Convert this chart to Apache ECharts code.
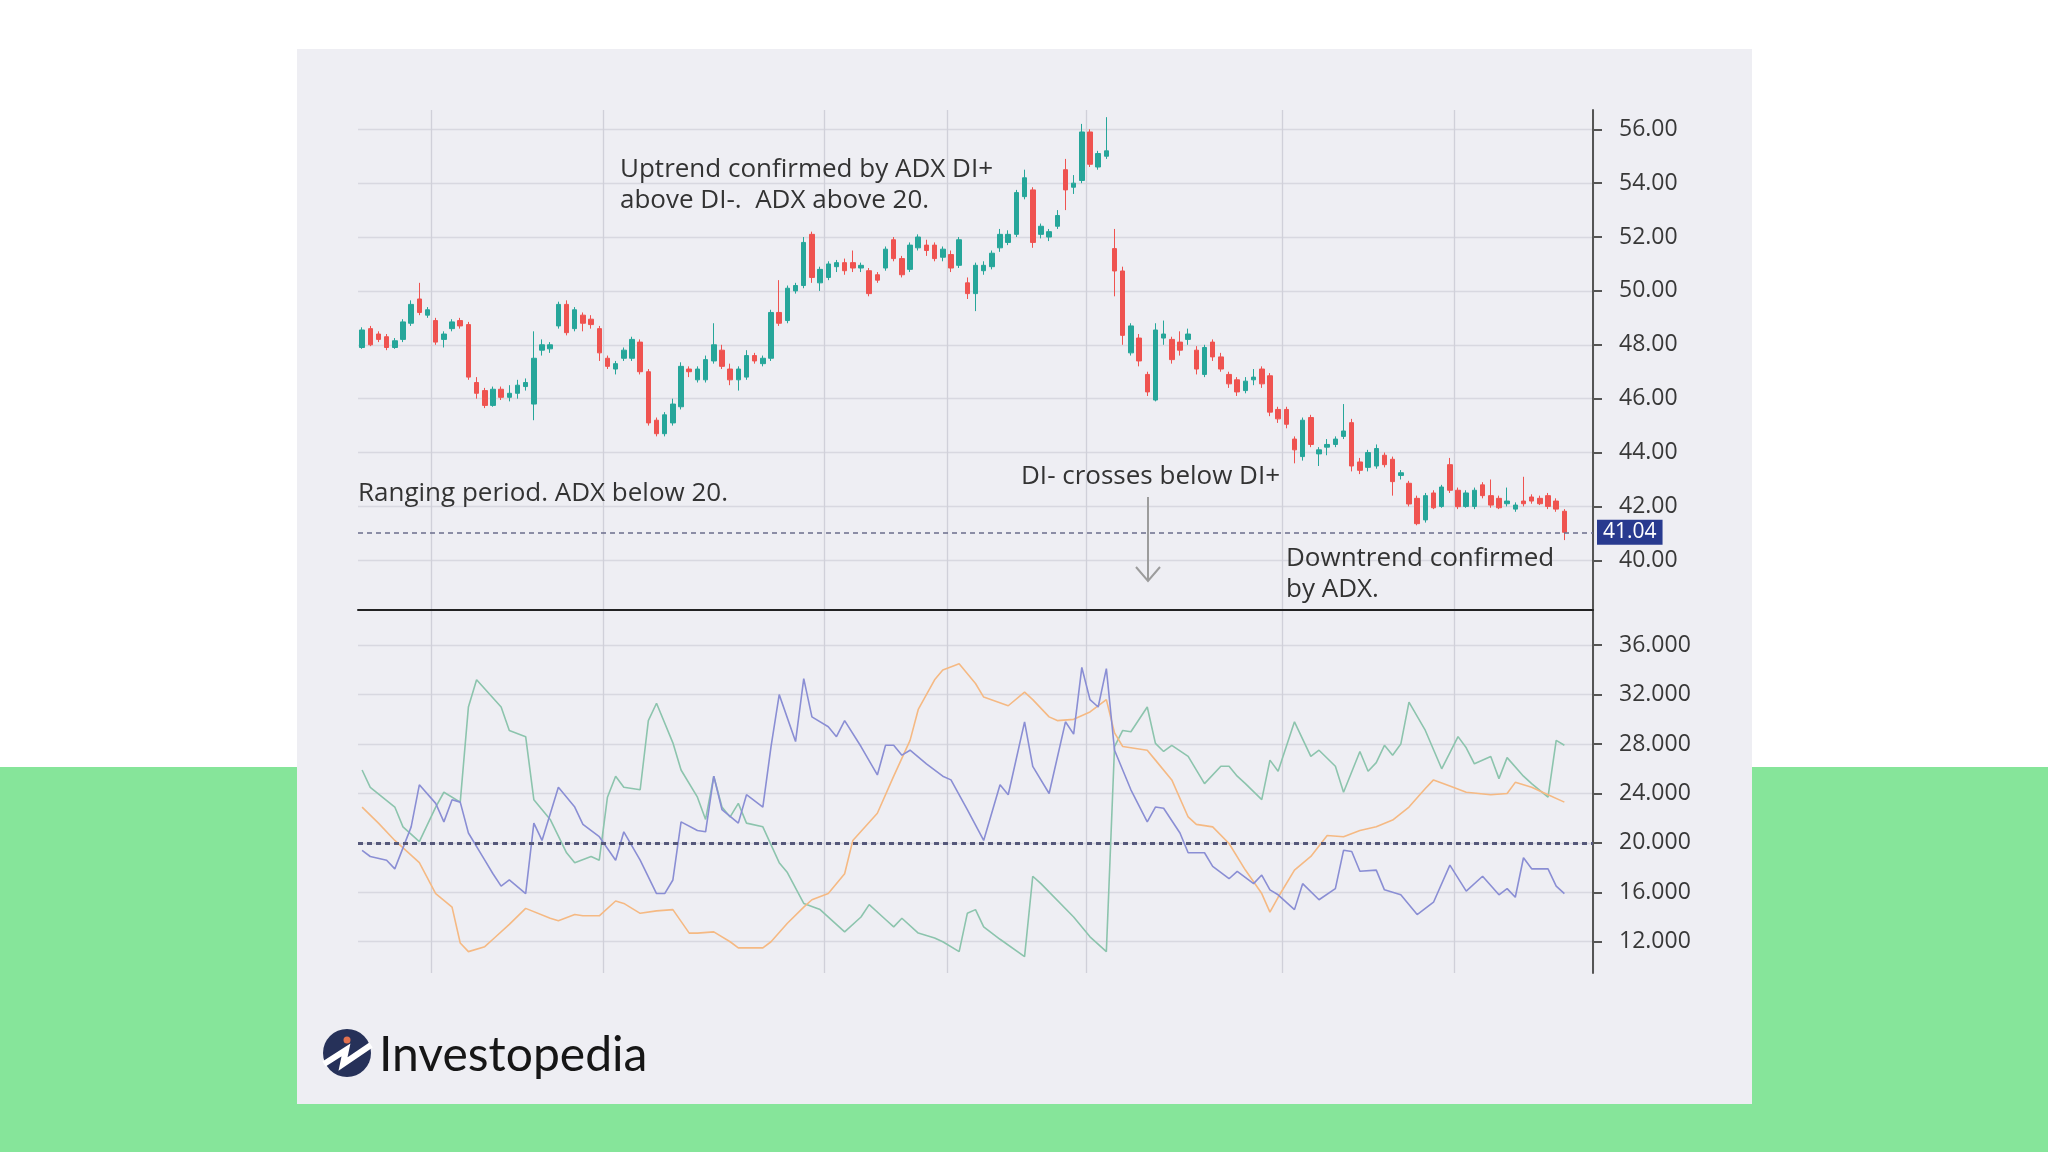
<!DOCTYPE html>
<html><head><meta charset="utf-8">
<script src="https://cdn.jsdelivr.net/npm/echarts@6/dist/echarts.min.js"></script>
<style>
html,body{margin:0;padding:0;width:2048px;height:1152px;background:#fff;overflow:hidden;}
#green{position:absolute;left:0;top:767px;width:2048px;height:385px;background:#86e59a;}
#panel{position:absolute;left:297px;top:49px;width:1455px;height:1055px;background:#eeeef3;}
#chart{position:absolute;left:0;top:0;width:2048px;height:1152px;}
</style></head><body>
<div id="green"></div><div id="panel"></div><div id="chart"></div>
<script>
// ---- DATA ----
const categories = Array.from({length:151}, (_, i) => String(i));
const opens  = [47.9,48.6,48.4,48.3,47.9,48.2,48.8,49.7,49.1,48.9,48.2,48.6,48.9,48.75,46.6,46.3,45.75,46.35,46.05,46.2,46.45,45.8,47.8,47.85,48.7,49.5,48.6,49.1,48.95,48.6,
47.5,47.1,47.5,47.5,48.1,47.0,45.2,44.7,45.1,45.7,47.1,46.7,46.7,47.4,47.8,47.1,46.7,46.8,47.6,47.3,47.5,49.2,48.9,50.0,50.2,52.1,50.3,50.5,50.9,51.05,
51.05,50.85,50.75,50.6,50.85,51.9,51.2,50.8,51.6,51.7,51.7,51.25,51.35,50.95,50.3,49.9,50.75,50.9,51.6,51.8,52.1,53.5,53.75,52.1,52.0,52.4,54.5,53.85,54.1,55.9,
54.6,55.0,51.57,50.74,47.7,48.25,46.9,45.95,48.25,48.2,48.1,48.2,47.8,46.9,48.1,47.55,46.9,46.7,46.3,46.7,47.1,46.85,45.6,45.6,44.5,43.85,45.3,43.95,44.2,44.3,
44.6,45.11,43.65,43.45,43.5,43.9,43.75,43.15,42.86,42.3,41.5,42.5,42.0,43.55,42.6,42.0,42.0,42.8,42.4,42.3,42.1,41.9,42.2,42.35,42.3,42.4,42.2,41.82];
const closes = [48.55,48.0,48.2,47.9,48.15,48.85,49.5,49.2,49.3,48.1,48.4,48.85,48.7,46.8,46.2,45.75,46.35,46.05,46.2,46.5,46.6,47.5,48.0,48.0,49.5,48.45,49.3,48.8,48.75,47.7,
47.2,47.3,47.8,48.2,47.0,45.1,44.7,45.4,45.8,47.2,47.0,47.1,47.45,48.0,47.2,46.7,47.1,47.6,47.4,47.5,49.2,48.8,50.1,50.2,51.8,50.5,50.8,51.0,51.05,50.75,
50.85,50.95,49.9,50.4,51.55,51.2,50.6,51.7,52.0,51.5,51.2,51.55,50.85,51.9,49.9,50.95,50.95,51.4,52.1,52.1,53.65,54.2,51.8,52.4,52.2,52.8,53.75,54.0,55.9,54.7,
55.1,55.2,50.74,48.35,48.7,47.4,46.25,48.55,48.4,47.45,47.8,48.4,47.1,47.9,47.55,47.1,46.55,46.25,46.65,46.8,46.55,45.5,45.25,45.05,44.1,45.2,44.3,44.1,44.3,44.5,
44.8,43.5,43.34,44.0,44.15,43.55,42.92,43.25,42.09,41.36,42.4,41.95,42.72,42.6,41.99,42.5,42.6,42.4,42.05,41.95,42.2,42.05,42.1,42.2,42.1,42.0,41.9,41.04];
const lows   = [47.85,47.95,48.1,47.8,47.85,48.1,48.7,49.1,49.0,48.0,47.9,48.5,48.6,46.7,46.0,45.65,45.7,45.95,45.9,46.0,46.3,45.2,47.6,47.7,48.6,48.35,48.5,48.5,48.6,47.4,
47.1,46.9,47.4,47.4,46.9,45.0,44.6,44.6,45.0,45.6,46.8,46.6,46.6,47.3,47.1,46.5,46.3,46.7,47.3,47.2,47.4,48.7,48.8,49.9,50.1,50.3,50.0,50.4,50.7,50.6,
50.7,50.7,49.8,50.3,50.75,51.1,50.5,50.7,51.5,51.3,51.1,51.1,50.7,50.85,49.7,49.25,50.6,50.8,51.45,51.7,52.0,53.4,51.6,51.95,51.85,52.3,53.0,53.6,54.0,54.6,
54.5,54.9,49.8,48.0,47.6,47.2,46.1,45.9,48.0,47.3,47.6,48.0,46.9,46.8,47.4,47.0,46.4,46.1,46.2,46.5,46.4,45.35,45.1,44.9,43.6,43.7,44.2,43.5,43.9,44.2,
44.5,43.3,43.2,43.3,43.4,43.45,42.4,43.0,42.0,41.3,41.4,41.9,41.95,42.5,41.9,41.95,41.9,42.3,41.95,41.9,42.0,41.8,42.0,42.1,42.05,41.9,41.8,40.75];
const highs  = [48.65,48.7,48.5,48.4,48.25,48.95,49.65,50.3,49.4,49.0,48.5,48.95,49.0,48.85,46.8,46.4,46.45,46.45,46.5,46.7,46.75,48.5,48.2,48.1,49.6,49.65,49.4,49.2,49.1,48.7,
47.6,47.4,47.9,48.3,48.2,47.1,45.3,45.5,46.0,47.35,47.2,47.2,47.6,48.8,48.0,47.3,47.2,47.8,47.7,47.6,49.3,50.4,50.2,50.3,52.0,52.2,50.9,51.1,51.15,51.2,
51.5,51.05,50.85,50.7,51.65,52.0,51.3,51.8,52.1,51.9,51.8,51.65,51.5,52.0,50.5,51.05,51.1,51.5,52.3,52.25,53.75,54.5,53.85,52.5,52.3,53.0,54.9,54.3,56.2,56.0,
55.2,56.45,52.3,50.9,48.8,48.4,47.0,48.8,48.9,48.3,48.5,48.6,47.95,48.0,48.2,47.7,47.0,46.8,46.8,47.1,47.2,46.95,45.7,45.7,44.6,45.3,45.4,44.2,44.5,44.6,
45.8,45.25,43.8,44.1,44.3,44.0,43.85,43.35,42.95,42.4,42.5,42.6,42.8,43.8,42.7,42.6,42.7,42.9,43.0,42.4,42.7,42.15,43.1,42.45,42.4,42.5,42.3,41.9];
const lastPrice = 41.04;
const priceTicks = [40,42,44,46,48,50,52,54,56];
const adxTicks = [12,16,20,24,28,32,36];
const adxThreshold = 20;
// [candle index, value] vertices of the indicator lines
const diPlus = [[0,19.4],[1,18.9],[3,18.6],[4,17.9],[6,21.3],[7,24.7],[9,23.2],[10,21.7],[11,23.5],[12,23.3],[13,20.8],[15,18.6],[16,17.5],[17,16.5],[18,17.0],[20,15.9],[21,21.6],[22,20.2],[24,24.5],[26,22.9],[27,21.5],[29,20.5],[31,18.6],[32,20.9],[34,18.6],[36,15.9],[37,15.9],[38,17.0],[39,21.7],[41,21.0],[42,20.9],[43,25.4],[44,22.7],[46,21.6],[47,23.9],[49,22.9],[50,27.8],[51,32.0],[53,28.2],[54,33.3],[55,30.2],[57,29.4],[58,28.6],[59,29.9],[61,27.8],[63,25.5],[64,27.9],[65,27.9],[66,27.1],[67,27.5],[69,26.4],[71,25.4],[72,25.1],[74,22.7],[76,20.2],[78,24.7],[79,23.9],[81,29.8],[82,26.2],[84,24.0],[86,29.8],[87,28.8],[88,34.2],[89,31.6],[90,31.0],[91,34.1],[92,27.5],[94,24.3],[96,21.7],[97,22.9],[98,22.8],[100,20.8],[101,19.2],[103,19.2],[104,18.1],[106,17.1],[107,17.7],[109,16.7],[110,17.4],[111,16.2],[112,15.8],[114,14.6],[115,16.7],[117,15.4],[119,16.3],[120,19.4],[121,19.3],[122,17.7],[124,17.8],[125,16.2],[127,15.8],[129,14.2],[131,15.2],[133,18.2],[135,16.1],[137,17.3],[139,15.8],[140,16.3],[141,15.6],[142,18.8],[143,17.9],[145,17.9],[146,16.5],[147,15.9]];
const diMinus = [[0,25.9],[1,24.5],[4,22.9],[5,21.3],[7,20.1],[9,22.9],[10,24.1],[12,23.3],[13,31.0],[14,33.2],[17,31.0],[18,29.1],[20,28.6],[21,23.5],[23,21.9],[25,19.2],[26,18.4],[28,18.9],[29,18.6],[30,23.7],[31,25.4],[32,24.5],[34,24.3],[35,29.9],[36,31.3],[38,28.1],[39,25.9],[41,23.7],[42,21.9],[43,25.4],[44,22.9],[45,22.1],[46,23.2],[47,21.6],[49,21.3],[51,18.4],[52,17.6],[54,15.1],[56,14.6],[59,12.8],[61,14.0],[62,15.0],[64,13.8],[65,13.2],[66,13.9],[68,12.7],[70,12.3],[71,12.0],[73,11.2],[74,14.3],[75,14.6],[76,13.2],[78,12.2],[81,10.8],[82,17.3],[83,16.7],[87,14.0],[89,12.4],[91,11.2],[92,27.8],[93,29.1],[94,29.0],[96,31.0],[97,28.05],[98,27.4],[99,27.9],[101,27.0],[103,24.8],[105,26.2],[106,26.2],[107,25.4],[108,24.8],[110,23.5],[111,26.7],[112,25.8],[114,29.8],[116,27.0],[117,27.5],[119,26.2],[120,24.1],[122,27.4],[123,25.8],[124,26.5],[125,27.9],[126,27.1],[127,28.0],[128,31.4],[130,29.1],[132,26.0],[134,28.6],[135,27.7],[136,26.4],[138,27.0],[139,25.2],[140,26.9],[142,25.4],[143,24.8],[145,23.7],[146,28.3],[147,27.9]];
const adx = [[0,22.9],[2,21.6],[4,20.2],[7,18.4],[9,15.9],[11,14.8],[12,11.9],[13,11.2],[15,11.6],[16,12.2],[18,13.4],[20,14.7],[23,13.9],[24,13.7],[26,14.2],[27,14.1],[29,14.1],[31,15.3],[32,15.1],[34,14.3],[36,14.5],[38,14.6],[40,12.7],[41,12.7],[43,12.8],[45,12.0],[46,11.5],[49,11.5],[50,12.0],[52,13.5],[54,14.8],[55,15.4],[57,15.9],[59,17.5],[60,20.2],[63,22.4],[65,25.4],[67,28.3],[68,30.8],[70,33.2],[71,34.0],[73,34.5],[75,32.9],[76,31.8],[79,31.1],[81,32.2],[82,31.6],[84,30.2],[85,29.9],[87,30.0],[89,30.6],[91,31.6],[92,28.9],[93,27.8],[96,27.5],[97,26.7],[99,25.1],[101,22.1],[102,21.5],[104,21.3],[106,19.95],[108,17.8],[110,15.9],[111,14.4],[112,15.6],[114,17.8],[116,18.9],[118,20.6],[120,20.5],[122,21.0],[124,21.3],[126,21.85],[128,22.9],[130,24.4],[131,25.1],[133,24.6],[135,24.1],[138,23.9],[140,24.0],[141,24.9],[143,24.5],[145,23.9],[147,23.3]];
const verticalGridIdx = [9,30,57,72,89,113,134];

// ---- CHART ----
const candleData = opens.map((o, i) => [o, closes[i], lows[i], highs[i]]);
const chart = echarts.init(document.getElementById('chart'), null, {renderer:'canvas'});
const FONT = '"Open Sans", "DejaVu Sans", sans-serif';
function xAx(gi, showLine){
  return {type:'category', gridIndex:gi, data:categories, boundaryGap:true,
    axisLine:{show:showLine, onZero:false, lineStyle:{color:'#222', width:2}},
    axisTick:{show:false}, axisLabel:{show:false},
    splitLine:{show:true, interval:(idx)=>verticalGridIdx.includes(idx), lineStyle:{color:'#d0d0d9', width:1.3}}};
}
function yAx(gi, min, max, ticks, dec){
  return {type:'value', gridIndex:gi, position:'right', min:min, max:max, scale:true,
    axisLine:{show:true, lineStyle:{color:'#555', width:2}},
    axisTick:{show:true, customValues:ticks, length:9, lineStyle:{color:'#555', width:2}},
    axisLabel:{show:true, customValues:ticks, margin:26, color:'#383838', fontSize:23, fontFamily:FONT,
      formatter:(v)=>Number(v).toFixed(dec)},
    splitLine:{show:true, lineStyle:{color:'#d8d8e0', width:1.3}}};
}
const txt = (t, x, y, size) => ({type:'text', z:100, style:{text:t, x:x, y:y, font:`${size||26}px "Open Sans", sans-serif`, fill:'#333', textVerticalAlign:'middle', verticalAlign:'middle'}});
chart.setOption({
  backgroundColor:'transparent',
  animation:false,
  grid:[{left:358, top:110, width:1235, height:500},{left:358, top:610, width:1235, height:363}],
  xAxis:[xAx(0,true), xAx(1,false)],
  yAxis:[yAx(0,38.155,56.716,priceTicks,2), yAx(1,9.47,38.85,adxTicks,3)],
  series:[
    {type:'candlestick', xAxisIndex:0, yAxisIndex:0, data:candleData, barWidth:5,
      itemStyle:{color:'#26a69a', color0:'#ef5350', borderColor:'#26a69a', borderColor0:'#ef5350', borderWidth:1},
      markLine:{silent:true, symbol:'none', data:[{yAxis:lastPrice}],
        lineStyle:{color:'#6b6e8c', type:[5,4], width:1.6},
        label:{show:true, position:'end', distance:4, formatter:lastPrice.toFixed(2), color:'#fff', backgroundColor:'#283a8f', padding:[3,6,1,6], fontSize:21, fontFamily:FONT}}},
    {type:'line', name:'DI+', xAxisIndex:1, yAxisIndex:1, data:diPlus, showSymbol:false, lineStyle:{color:'#8a8ed4', width:1.6}, z:3,
      markLine:{silent:true, symbol:'none', data:[{yAxis:adxThreshold}], label:{show:false}, lineStyle:{color:'#55587a', type:[5,4], width:3}}},
    {type:'line', name:'DI-', xAxisIndex:1, yAxisIndex:1, data:diMinus, showSymbol:false, lineStyle:{color:'#8cc4ad', width:1.6}, z:2},
    {type:'line', name:'ADX', xAxisIndex:1, yAxisIndex:1, data:adx, showSymbol:false, lineStyle:{color:'#f5b983', width:1.6}, z:2}
  ],
  graphic:[
    txt('Uptrend confirmed by ADX DI+', 620, 170),
    txt('above DI-.  ADX above 20.', 620, 201),
    txt('Ranging period. ADX below 20.', 358, 494),
    txt('DI- crosses below DI+', 1021, 477),
    txt('Downtrend confirmed', 1286, 559),
    txt('by ADX.', 1286, 590),
    {type:'line', z:100, shape:{x1:1148, y1:497, x2:1148, y2:581}, style:{stroke:'#9c9c9c', lineWidth:2}},
    {type:'polyline', z:100, shape:{points:[[1136,567],[1148,581],[1160,567]]}, style:{stroke:'#9c9c9c', lineWidth:2, fill:null}},
    {type:'circle', z:100, shape:{cx:347, cy:1053, r:24}, style:{fill:'#263159'}},
    {type:'polyline', z:101, shape:{points:[[324,1064],[346,1050],[343,1064],[371,1045]]}, style:{stroke:'#fff', lineWidth:6, fill:null, lineJoin:'miter'}},
    {type:'circle', z:101, shape:{cx:347, cy:1040, r:3.5}, style:{fill:'#e2714f'}},
    {type:'text', z:100, style:{text:'Investopedia', x:379, y:1056, font:'48px Lato, "Open Sans", sans-serif', fill:'#161616', textVerticalAlign:'middle', verticalAlign:'middle'}}
  ]
});
</script>
</body></html>
